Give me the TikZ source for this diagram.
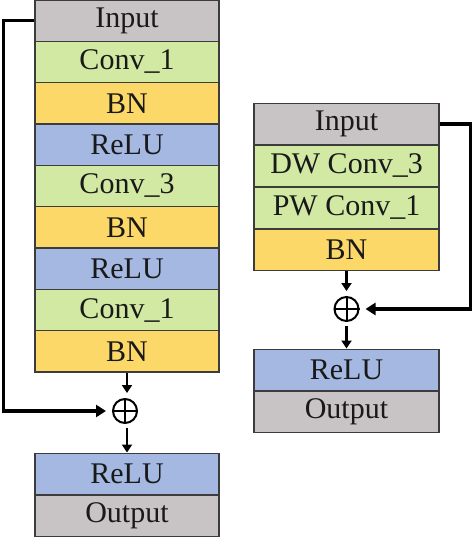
\documentclass[tikz,border=0pt]{standalone}
\usepackage{fontspec}
\setmainfont{Liberation Serif}
\usetikzlibrary{arrows.meta}
\definecolor{cgray}{RGB}{200,196,197}
\definecolor{cgreen}{RGB}{210,233,163}
\definecolor{cyellow}{RGB}{251,216,104}
\definecolor{cblue}{RGB}{164,184,225}
\definecolor{cborder}{RGB}{60,60,60}
\tikzset{
  layer/.style={draw=cborder, line width=1.4pt, minimum height=41.5pt, inner sep=0pt, font=\fontsize{30}{31}\selectfont, text=black!90},
  lw/.style={layer, minimum width=184pt},
  rw/.style={layer, minimum width=185pt},
  sumnode/.style={circle, draw=black, line width=2pt, minimum size=24pt, inner sep=0pt},
  arr/.style={line width=2.2pt, -{Triangle[length=8pt,width=10pt]}},
  skip/.style={line width=3.5pt, -{Triangle[length=10pt,width=12pt]}}
}
\begin{document}
\begin{tikzpicture}[x=1pt,y=-1pt]
\useasboundingbox (0,0) rectangle (474,537);
% left stack
\node[lw, fill=cgray]   (l1) at (127,20.7) {Input};
\node[lw, fill=cgreen]  (l2) at (127,62) {Conv\_1};
\node[lw, fill=cyellow] (l3) at (127,103.3) {BN};
\node[lw, fill=cblue]   (l4) at (127,144.7) {ReLU};
\node[lw, fill=cgreen]  (l5) at (127,186) {Conv\_3};
\node[lw, fill=cyellow] (l6) at (127,227.3) {BN};
\node[lw, fill=cblue]   (l7) at (127,268.7) {ReLU};
\node[lw, fill=cgreen]  (l8) at (127,310) {Conv\_1};
\node[lw, fill=cyellow] (l9) at (127,351.3) {BN};
\node[sumnode] (ls) at (125,411) {};
\draw[line width=2pt] (ls.north) -- (ls.south) (ls.west) -- (ls.east);
\node[lw, fill=cblue] (lr) at (127,474) {ReLU};
\node[lw, fill=cgray] (lo) at (127,516) {Output};
\draw[arr, shorten >=5pt] (l9.south) -- (l9.south |- ls.north);
\draw[arr, shorten <=4pt] (l9.south |- ls.south) -- (lr.north);
\draw[skip, shorten >=6pt] (l1.west) -- ++(-31,0) |- (ls.west);
% right stack
\node[rw, fill=cgray]   (r1) at (346.5,124) {Input};
\node[rw, fill=cgreen]  (r2) at (346.5,166) {DW Conv\_3};
\node[rw, fill=cgreen]  (r3) at (346.5,208) {PW Conv\_1};
\node[rw, fill=cyellow] (r4) at (346.5,250) {BN};
\node[sumnode] (rs) at (346.5,309) {};
\draw[line width=2pt] (rs.north) -- (rs.south) (rs.west) -- (rs.east);
\node[rw, fill=cblue] (rr) at (346.5,370) {ReLU};
\node[rw, fill=cgray] (ro) at (346.5,412) {Output};
\draw[arr, shorten >=5pt] (r4.south) -- (rs.north);
\draw[arr, shorten <=4pt] (rs.south) -- (rr.north);
\draw[skip, shorten >=6pt] (r1.east) -- ++(31,0) |- (rs.east);
\end{tikzpicture}
\end{document}
